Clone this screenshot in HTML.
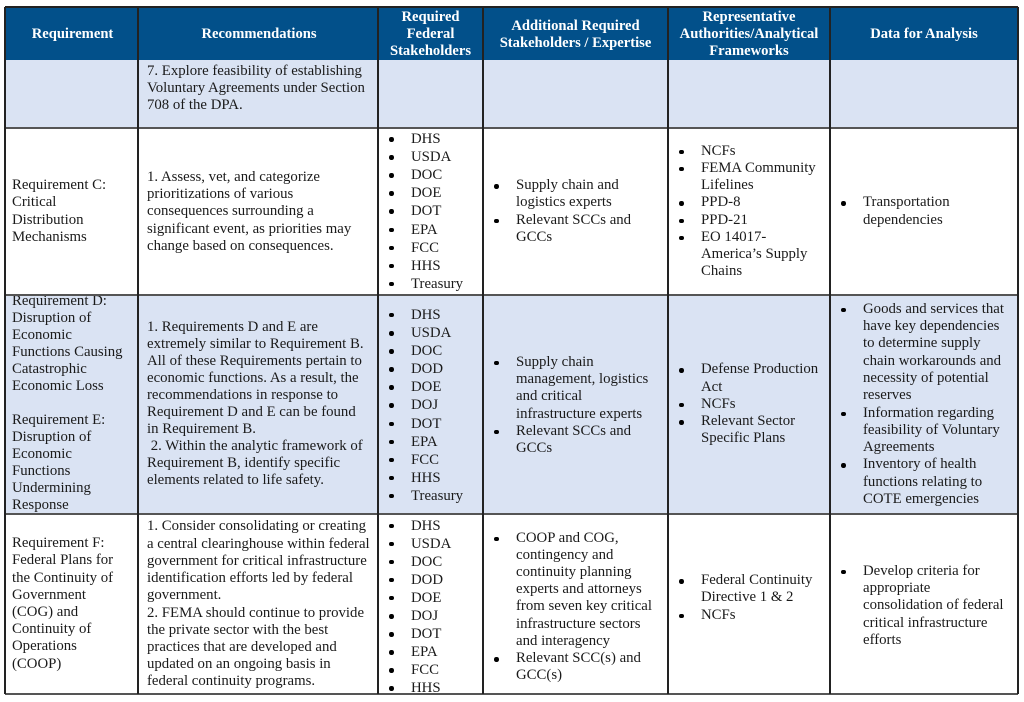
<!DOCTYPE html>
<html><head><meta charset="utf-8"><style>
body{margin:0;width:1024px;height:702px;background:#fff;position:relative;overflow:hidden;font-family:"Liberation Serif",serif;color:#1a1a1a}
.c{position:absolute;box-sizing:border-box;display:flex;flex-direction:column;justify-content:center;font-size:14.8px;line-height:17.2px;white-space:nowrap;padding-left:7px}
.h{background:#02508a;color:#fff;font-weight:bold;text-align:center;align-items:center;padding:0;line-height:17px;font-size:14.6px;padding-top:2px}
.b{background:#dae3f3}
.v{position:absolute;width:1.5px;background:#222;top:7px;height:687px}
.hl{position:absolute;height:2px;background:#555;left:5px;width:1013px}
ul{margin:0;padding:0;list-style:none}
li{position:relative;padding-left:26px}
li:before{content:"";position:absolute;left:4px;top:7px;width:4.5px;height:4.5px;border-radius:50%;background:#000}
.t{line-height:18.1px}
</style></head><body>
<!-- header -->
<div class="c h" style="left:5px;top:7px;width:135px;height:53px">Requirement</div>
<div class="c h" style="left:140px;top:7px;width:238px;height:53px">Recommendations</div>
<div class="c h" style="left:378px;top:7px;width:105px;height:53px">Required<br>Federal<br>Stakeholders</div>
<div class="c h" style="left:483px;top:7px;width:185px;height:53px">Additional Required<br>Stakeholders / Expertise</div>
<div class="c h" style="left:668px;top:7px;width:162px;height:53px">Representative<br>Authorities/Analytical<br>Frameworks</div>
<div class="c h" style="left:830px;top:7px;width:188px;height:53px">Data for Analysis</div>
<!-- row1 -->
<div class="c b" style="left:5px;top:60px;width:1013px;height:68px"></div>
<div class="c" style="left:140px;top:60px;width:238px;height:57px">7. Explore feasibility of establishing<br>Voluntary Agreements under Section<br>708 of the DPA.</div>
<!-- row2 -->
<div class="c" style="left:5px;top:128px;width:135px;height:167px;padding-top:0px">Requirement C:<br>Critical<br>Distribution<br>Mechanisms</div>
<div class="c" style="left:140px;top:128px;width:238px;height:167px;padding-top:1px">1. Assess, vet, and categorize<br>prioritizations of various<br>consequences surrounding a<br>significant event, as priorities may<br>change based on consequences.</div>
<div class="c t" style="left:378px;top:128px;width:105px;height:167px"><ul><li>DHS</li><li>USDA</li><li>DOC</li><li>DOE</li><li>DOT</li><li>EPA</li><li>FCC</li><li>HHS</li><li>Treasury</li></ul></div>
<div class="c" style="left:483px;top:128px;width:185px;height:167px"><ul><li>Supply chain and<br>logistics experts</li><li>Relevant SCCs and<br>GCCs</li></ul></div>
<div class="c" style="left:668px;top:128px;width:162px;height:167px;padding-top:0px"><ul><li>NCFs</li><li>FEMA Community<br>Lifelines</li><li>PPD-8</li><li>PPD-21</li><li>EO 14017-<br>America’s Supply<br>Chains</li></ul></div>
<div class="c" style="left:830px;top:128px;width:188px;height:167px"><ul><li>Transportation<br>dependencies</li></ul></div>
<!-- row3 -->
<div class="c b" style="left:5px;top:295px;width:1013px;height:219px"></div>
<div class="c" style="left:5px;width:135px;height:219px;justify-content:flex-start;line-height:17px;top:293px">Requirement D:<br>Disruption of<br>Economic<br>Functions Causing<br>Catastrophic<br>Economic Loss<br><span style="line-height:17px">&nbsp;</span>Requirement E:<br>Disruption of<br>Economic<br>Functions<br>Undermining<br>Response</div>
<div class="c" style="left:140px;top:295px;width:238px;height:219px;line-height:17px;padding-bottom:2px">1. Requirements D and E are<br>extremely similar to Requirement B.<br>All of these Requirements pertain to<br>economic functions. As a result, the<br>recommendations in response to<br>Requirement D and E can be found<br>in Requirement B.<br>&nbsp;2. Within the analytic framework of<br>Requirement B, identify specific<br>elements related to life safety.</div>
<div class="c t" style="left:378px;top:295px;width:105px;height:219px;padding-top:2px"><ul><li>DHS</li><li>USDA</li><li>DOC</li><li>DOD</li><li>DOE</li><li>DOJ</li><li>DOT</li><li>EPA</li><li>FCC</li><li>HHS</li><li>Treasury</li></ul></div>
<div class="c" style="left:483px;top:295px;width:185px;height:219px;padding-top:2px"><ul><li>Supply chain<br>management, logistics<br>and critical<br>infrastructure experts</li><li>Relevant SCCs and<br>GCCs</li></ul></div>
<div class="c" style="left:668px;top:295px;width:162px;height:219px;padding-top:0px"><ul><li>Defense Production<br>Act</li><li>NCFs</li><li>Relevant Sector<br>Specific Plans</li></ul></div>
<div class="c" style="left:830px;top:295px;width:188px;height:219px;line-height:17.3px"><ul><li>Goods and services that<br>have key dependencies<br>to determine supply<br>chain workarounds and<br>necessity of potential<br>reserves</li><li>Information regarding<br>feasibility of Voluntary<br>Agreements</li><li>Inventory of health<br>functions relating to<br>COTE emergencies</li></ul></div>
<!-- row4 -->
<div class="c" style="left:5px;top:514px;width:135px;height:180px">Requirement F:<br>Federal Plans for<br>the Continuity of<br>Government<br>(COG) and<br>Continuity of<br>Operations<br>(COOP)</div>
<div class="c" style="left:140px;top:514px;width:238px;height:180px;padding-top:1px">1. Consider consolidating or creating<br>a central clearinghouse within federal<br>government for critical infrastructure<br>identification efforts led by federal<br>government.<br>2. FEMA should continue to provide<br>the private sector with the best<br>practices that are developed and<br>updated on an ongoing basis in<br>federal continuity programs.</div>
<div class="c t" style="left:378px;top:514px;width:105px;height:180px;padding-top:6px"><ul><li>DHS</li><li>USDA</li><li>DOC</li><li>DOD</li><li>DOE</li><li>DOJ</li><li>DOT</li><li>EPA</li><li>FCC</li><li>HHS</li></ul></div>
<div class="c" style="left:483px;top:514px;width:185px;height:180px;padding-top:6px"><ul><li>COOP and COG,<br>contingency and<br>continuity planning<br>experts and attorneys<br>from seven key critical<br>infrastructure sectors<br>and interagency</li><li>Relevant SCC(s) and<br>GCC(s)</li></ul></div>
<div class="c" style="left:668px;top:514px;width:162px;height:180px;padding-bottom:12px"><ul><li>Federal Continuity<br>Directive 1 &amp; 2</li><li>NCFs</li></ul></div>
<div class="c" style="left:830px;top:514px;width:188px;height:180px;padding-top:4px"><ul><li>Develop criteria for<br>appropriate<br>consolidation of federal<br>critical infrastructure<br>efforts</li></ul></div>
<!-- grid lines -->
<div class="hl" style="top:6px;background:#222;height:1.5px"></div>
<div class="hl" style="top:127px"></div>
<div class="hl" style="top:294px"></div>
<div class="hl" style="top:513px"></div>
<div class="hl" style="top:693px"></div>
<div class="v" style="left:4px"></div>
<div class="v" style="left:137px"></div>
<div class="v" style="left:377px"></div>
<div class="v" style="left:482px"></div>
<div class="v" style="left:667px"></div>
<div class="v" style="left:829px"></div>
<div class="v" style="left:1017px"></div>
</body></html>
